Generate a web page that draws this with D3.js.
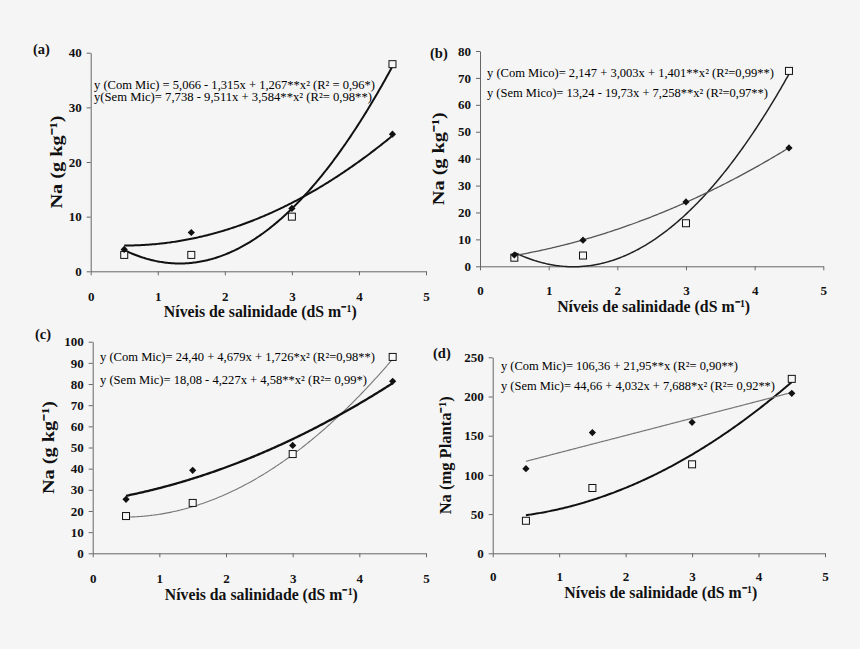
<!DOCTYPE html>
<html>
<head>
<meta charset="utf-8">
<script src="https://cdn.jsdelivr.net/npm/d3@7"></script>
<style>
  html, body { margin: 0; padding: 0; background: #f5f5f5; }
  svg { display: block; }
  text { font-family: "Liberation Serif", "Times New Roman", serif; fill: #111; }
  .tick text { font-family: "Liberation Serif", serif; font-weight: bold; font-size: 13px; }
  .tick line, .domain { stroke: #666; stroke-width: 1; }
  .eq { fill: #000; font-size: 12.5px; }
</style>
</head>
<body>
<div id="chart"></div>
<script>
// salinity levels (dS m-1)
const salinity = [0.5, 1.5, 3, 4.5];

// measured Na, with mycorrhiza (filled diamonds) and without (open squares)
const comA = [4.0, 7.1, 11.5, 25.1];
const semA = [3.0, 3.0, 10.0, 37.9];
const comB = [4.2, 9.7, 23.9, 44.0];
const semB = [3.2, 4.0, 16.0, 72.6];
const comC = [25.5, 39.2, 51.0, 81.3];
const semC = [17.6, 23.8, 46.9, 92.8];
const comD = [108, 154, 167, 204];
const semD = [41.5, 83.3, 113.5, 222.5];

// regression coefficients as printed [a, b, c] -> a + b x + c x^2
const fitComA = [5.066, -1.315, 1.267], fitSemA = [7.738, -9.511, 3.584];
const fitComB = [2.147, 3.003, 1.401], fitSemB = [13.24, -19.73, 7.258];
const fitComC = [24.40, 4.679, 1.726], fitSemC = [18.08, -4.227, 4.58];
const fitComD = [106.36, 21.95, 0], fitSemD = [44.66, 4.032, 7.688];

const yMaxes = [40, 80, 100, 250];
const yStep = [10, 10, 10, 50];
const panelTags = ["(a)", "(b)", "(c)", "(d)"];
const xTitles = ["Níveis de salinidade (dS m⁻¹)", "Níveis de salinidade (dS m⁻¹)",
                 "Níveis da salinidade (dS m⁻¹)", "Níveis de salinidade (dS m⁻¹)"];
const yTitles = ["Na (g kg⁻¹)", "Na (g kg⁻¹)", "Na (g kg⁻¹)", "Na (mg Planta⁻¹)"];
const eqCom = [
  "y (Com Mic) = 5,066 - 1,315x + 1,267**x² (R² = 0,96*)",
  "y (Com Mico)= 2,147 + 3,003x + 1,401**x² (R²=0,99**)",
  "y (Com Mic)= 24,40 + 4,679x + 1,726*x² (R²=0,98**)",
  "y (Com Mic)= 106,36 + 21,95**x  (R²= 0,90**)"
];
const eqSem = [
  "y(Sem Mic)= 7,738 - 9,511x + 3,584**x² (R²= 0,98**)",
  "y (Sem Mico)= 13,24 - 19,73x + 7,258**x² (R²=0,97**)",
  "y (Sem Mic)= 18,08 - 4,227x + 4,58**x² (R²= 0,99*)",
  "y (Sem Mic)= 44,66 + 4,032x + 7,688*x² (R²= 0,92**)"
];

const W = 860, H = 649;
// plot frames and text placement per panel
const P = [
  { x0: 90.7, x1: 426, y0: 271.3, y1: 52.7, pad: 16, tag: [33, 54], xt: 317, ytx: 56,
    eq: [94, 89, 281, 101, 278], com: { c: "#111", w: 2 }, sem: { c: "#111", w: 2 } },
  { x0: 480, x1: 823.3, y0: 266.3, y1: 51, pad: 15, tag: [430, 58], xt: 311.5, ytx: 438,
    eq: [487, 77, 287, 97, 281], com: { c: "#555", w: 1.3 }, sem: { c: "#222", w: 1.5 } },
  { x0: 92.7, x1: 426, y0: 553.3, y1: 341.7, pad: 16, tag: [35, 339], xt: 599.5, ytx: 48,
    eq: [100, 361, 275, 384, 267], com: { c: "#111", w: 2.3 }, sem: { c: "#777", w: 1.1 } },
  { x0: 492.7, x1: 825, y0: 553.3, y1: 357.3, pad: 14, tag: [433, 358], xt: 597.5, ytx: 445,
    eq: [501, 370, 237, 390, 274], com: { c: "#777", w: 1.2 }, sem: { c: "#111", w: 2 } }
];

const comData = [comA, comB, comC, comD];
const semData = [semA, semB, semC, semD];
const comFit = [fitComA, fitComB, fitComC, fitComD];
const semFit = [fitSemA, fitSemB, fitSemC, fitSemD];

const svg = d3.select("#chart").append("svg").attr("width", W).attr("height", H);
svg.append("rect").attr("width", W).attr("height", H).attr("fill", "#f5f5f5");

const xsamp = d3.range(0.5, 4.5001, 0.02);
const poly = (k) => (x) => k[0] + k[1] * x + k[2] * x * x;

P.forEach((p, i) => {
  const g = svg.append("g");
  const x = d3.scaleLinear().domain([0, 5]).range([p.x0, p.x1]);
  const y = d3.scaleLinear().domain([0, yMaxes[i]]).range([p.y0, p.y1]);

  g.append("g").attr("transform", `translate(0,${p.y0})`)
    .call(d3.axisBottom(x).ticks(5).tickSize(4).tickSizeOuter(0).tickPadding(p.pad));
  g.append("g").attr("transform", `translate(${p.x0},0)`)
    .call(d3.axisLeft(y).tickValues(d3.range(0, yMaxes[i] + 1, yStep[i])).tickSize(4).tickSizeOuter(0).tickPadding(5));

  g.append("text").attr("x", p.tag[0]).attr("y", p.tag[1])
    .style("font-weight", "bold").style("font-size", "14.5px").text(panelTags[i]);

  g.append("text").attr("x", (p.x0 + p.x1) / 2 + 2).attr("y", p.xt)
    .attr("text-anchor", "middle").style("font-weight", "bold").style("font-size", "17px")
    .attr("textLength", 193).attr("lengthAdjust", "spacingAndGlyphs").text(xTitles[i]);

  g.append("text")
    .attr("transform", `translate(${p.ytx},${(p.y0 + p.y1) / 2}) rotate(-90)`)
    .attr("text-anchor", "middle").attr("dy", "0.35em")
    .style("font-weight", "bold").style("font-size", "17px")
    .attr("textLength", i === 3 ? 118 : 93).attr("lengthAdjust", "spacingAndGlyphs")
    .text(yTitles[i]);

  // fitted curves
  const line = d3.line().x((d) => x(d[0])).y((d) => y(d[1]));
  const fc = poly(comFit[i]), fs = poly(semFit[i]);
  g.append("path").attr("d", line(xsamp.map((v) => [v, fs(v)])))
    .attr("fill", "none").attr("stroke", p.sem.c).attr("stroke-width", p.sem.w);
  g.append("path").attr("d", line(xsamp.map((v) => [v, fc(v)])))
    .attr("fill", "none").attr("stroke", p.com.c).attr("stroke-width", p.com.w);

  // markers
  g.selectAll(".sq").data(semData[i]).join("rect").attr("class", "sq")
    .attr("x", (d, j) => x(salinity[j]) - 3.5).attr("y", (d) => y(d) - 3.5)
    .attr("width", 7).attr("height", 7)
    .attr("fill", "#f7f7f7").attr("stroke", "#111").attr("stroke-width", 1);
  g.selectAll(".dm").data(comData[i]).join("path").attr("class", "dm")
    .attr("transform", (d, j) => `translate(${x(salinity[j])},${y(d)}) rotate(45)`)
    .attr("d", d3.symbol(d3.symbolSquare, 26)).attr("fill", "#111");

  // equations
  g.append("text").attr("class", "eq").attr("x", p.eq[0]).attr("y", p.eq[1])
    .attr("textLength", p.eq[2]).attr("lengthAdjust", "spacingAndGlyphs").text(eqCom[i]);
  g.append("text").attr("class", "eq").attr("x", p.eq[0]).attr("y", p.eq[3])
    .attr("textLength", p.eq[4]).attr("lengthAdjust", "spacingAndGlyphs").text(eqSem[i]);
});
</script>
</body>
</html>
